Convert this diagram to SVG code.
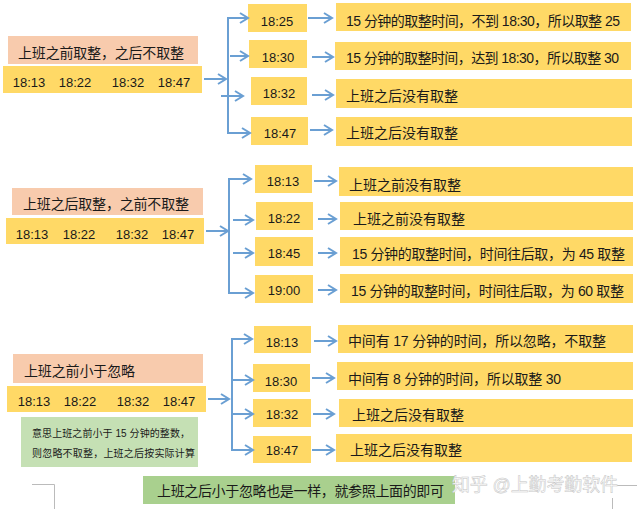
<svg xmlns="http://www.w3.org/2000/svg" width="639" height="509" viewBox="0 0 639 509">
<style>
.y{fill:#FFD966}
.p{fill:#F8CBAD}
.g{fill:#A9D08E}
.n{fill:#C5E0B4}
text{font-family:"Liberation Sans","Noto Sans CJK SC",sans-serif;fill:#1a1a1a}
.t{font-size:13px;text-anchor:middle}
.h{font-size:14px}
.s{font-size:10px}
.c line{stroke:#6A9FD3;stroke-width:2;fill:none}
.c .a{marker-end:url(#ah)}
</style>
<defs>
<marker id="ah" markerUnits="userSpaceOnUse" markerWidth="12" markerHeight="14" refX="9" refY="6" orient="auto" viewBox="0 0 12 12">
<path d="M1,1 L9,6 L1,11" fill="none" stroke="#6A9FD3" stroke-width="2"/>
</marker>
</defs>
<rect width="639" height="509" fill="#fff"/>

<!-- Section 1 -->
<g id="title1"><rect class="p" x="8" y="36" width="190" height="28"/><text class="h" x="18" y="58" textLength="166">上班之前取整，之后不取整</text></g>
<g id="bar1"><rect class="y" x="3" y="66" width="199" height="27"/>
<text class="t" x="29" y="87">18:13</text><text class="t" x="75" y="87">18:22</text><text class="t" x="128" y="87">18:32</text><text class="t" x="174" y="87">18:47</text></g>
<g id="s1b1"><rect class="y" x="248" y="4" width="59" height="28"/><text class="t" x="277" y="26">18:25</text></g>
<g id="s1b2"><rect class="y" x="249" y="40" width="58" height="28"/><text class="t" x="278" y="62">18:30</text></g>
<g id="s1b3"><rect class="y" x="251" y="77" width="56" height="28"/><text class="t" x="279" y="98">18:32</text></g>
<g id="s1b4"><rect class="y" x="251" y="117" width="57" height="28"/><text class="t" x="280" y="138">18:47</text></g>
<g id="s1r1"><rect class="y" x="336" y="3" width="295" height="28"/><text class="h" x="346" y="26" textLength="274">15 分钟的取整时间，不到 18:30，所以取整 25</text></g>
<g id="s1r2"><rect class="y" x="335" y="42" width="296" height="28"/><text class="h" x="346" y="63" textLength="273">15 分钟的取整时间，达到 18:30，所以取整 30</text></g>
<g id="s1r3"><rect class="y" x="336" y="79" width="296" height="29"/><text class="h" x="346" y="101">上班之后没有取整</text></g>
<g id="s1r4"><rect class="y" x="336" y="117" width="296" height="29"/><text class="h" x="346" y="138">上班之后没有取整</text></g>

<!-- Section 2 -->
<g id="title2"><rect class="p" x="12" y="188" width="191" height="27"/><text class="h" x="23" y="209" textLength="166">上班之后取整，之前不取整</text></g>
<g id="bar2"><rect class="y" x="6" y="218" width="198" height="26"/>
<text class="t" x="32" y="239">18:13</text><text class="t" x="79" y="239">18:22</text><text class="t" x="132" y="239">18:32</text><text class="t" x="178" y="239">18:47</text></g>
<g id="s2b1"><rect class="y" x="255" y="165" width="57" height="28"/><text class="t" x="283" y="186">18:13</text></g>
<g id="s2b2"><rect class="y" x="256" y="202" width="57" height="28"/><text class="t" x="284" y="223">18:22</text></g>
<g id="s2b3"><rect class="y" x="255" y="237" width="58" height="29"/><text class="t" x="284" y="258">18:45</text></g>
<g id="s2b4"><rect class="y" x="255" y="275" width="58" height="28"/><text class="t" x="284" y="295">19:00</text></g>
<g id="s2r1"><rect class="y" x="339" y="167" width="294" height="29"/><text class="h" x="349" y="190">上班之前没有取整</text></g>
<g id="s2r2"><rect class="y" x="340" y="202" width="293" height="28"/><text class="h" x="353" y="224">上班之前没有取整</text></g>
<g id="s2r3"><rect class="y" x="340" y="237" width="293" height="29"/><text class="h" x="352" y="259" textLength="273">15 分钟的取整时间，时间往后取，为 45 取整</text></g>
<g id="s2r4"><rect class="y" x="340" y="274" width="293" height="29"/><text class="h" x="351" y="296" textLength="273">15 分钟的取整时间，时间往后取，为 60 取整</text></g>

<!-- Section 3 -->
<g id="title3"><rect class="p" x="13" y="354" width="190" height="29"/><text class="h" x="24" y="376" textLength="111">上班之前小于忽略</text></g>
<g id="bar3"><rect class="y" x="7" y="386" width="199" height="26"/>
<text class="t" x="34" y="406">18:13</text><text class="t" x="80" y="406">18:22</text><text class="t" x="133" y="406">18:32</text><text class="t" x="179" y="406">18:47</text></g>
<g id="note"><rect class="n" x="21" y="417" width="177" height="50"/>
<text class="s" x="32" y="437" textLength="158">意思上班之前小于 15 分钟的整数，</text>
<text class="s" x="32" y="457" textLength="163">则忽略不取整，上班之后按实际计算</text></g>
<g id="s3b1"><rect class="y" x="254" y="326" width="57" height="27"/><text class="t" x="282" y="347">18:13</text></g>
<g id="s3b2"><rect class="y" x="253" y="364" width="57" height="28"/><text class="t" x="281" y="386">18:30</text></g>
<g id="s3b3"><rect class="y" x="253" y="399" width="58" height="28"/><text class="t" x="282" y="419">18:32</text></g>
<g id="s3b4"><rect class="y" x="253" y="436" width="58" height="27"/><text class="t" x="282" y="455">18:47</text></g>
<g id="s3r1"><rect class="y" x="338" y="325" width="295" height="28"/><text class="h" x="348" y="346" textLength="258">中间有 17 分钟的时间，所以忽略，不取整</text></g>
<g id="s3r2"><rect class="y" x="337" y="362" width="296" height="28"/><text class="h" x="348" y="384" textLength="213">中间有 8 分钟的时间，所以取整 30</text></g>
<g id="s3r3"><rect class="y" x="339" y="399" width="294" height="28"/><text class="h" x="352" y="420">上班之后没有取整</text></g>
<g id="s3r4"><rect class="y" x="336" y="434" width="296" height="28"/><text class="h" x="350" y="455">上班之后没有取整</text></g>

<g id="footer"><rect class="g" x="143" y="476" width="312" height="28"/><text class="h" x="157" y="496" textLength="287">上班之后小于忽略也是一样，就参照上面的即可</text></g>

<g id="marks" stroke="#bbb" stroke-width="1" fill="none">
<path d="M32,484.5 H54.5 V509"/>
<path d="M612.5,498 V509"/>
<path d="M617,485.5 H637"/>
</g>
<text x="452" y="491" font-size="18" textLength="166" style="fill:#fff;stroke:#c4c4c4;stroke-width:0.5">知乎 @上勤考勤软件</text>

<g id="connectors" class="c">
<line class="a" x1="204" y1="79" x2="226" y2="79"/>
<line x1="228" y1="17" x2="228" y2="134"/>
<line class="a" x1="227" y1="18" x2="248" y2="18"/>
<line class="a" x1="230" y1="56" x2="248" y2="56"/>
<line class="a" x1="221" y1="96" x2="243" y2="96"/>
<line class="a" x1="227" y1="133" x2="250" y2="133"/>
<line class="a" x1="308" y1="18" x2="332" y2="18"/>
<line class="a" x1="312" y1="57" x2="333" y2="57"/>
<line class="a" x1="312" y1="95" x2="333" y2="95"/>
<line class="a" x1="310" y1="130" x2="332" y2="130"/>

<line class="a" x1="206" y1="231" x2="228" y2="231"/>
<line x1="229" y1="178" x2="229" y2="294"/>
<line class="a" x1="228" y1="179" x2="251" y2="179"/>
<line class="a" x1="233" y1="220" x2="253" y2="220"/>
<line class="a" x1="233" y1="253" x2="253" y2="253"/>
<line class="a" x1="228" y1="293" x2="253" y2="293"/>
<line class="a" x1="314" y1="181" x2="336" y2="181"/>
<line class="a" x1="318" y1="219" x2="336" y2="219"/>
<line class="a" x1="318" y1="253" x2="336" y2="253"/>
<line class="a" x1="318" y1="290" x2="336" y2="290"/>

<line class="a" x1="208" y1="399" x2="229" y2="399"/>
<line x1="232" y1="338" x2="232" y2="451"/>
<line class="a" x1="231" y1="339" x2="252" y2="339"/>
<line class="a" x1="233" y1="380" x2="253" y2="380"/>
<line class="a" x1="233" y1="414" x2="253" y2="414"/>
<line class="a" x1="231" y1="450" x2="253" y2="450"/>
<line class="a" x1="314" y1="341" x2="336" y2="341"/>
<line class="a" x1="312" y1="378" x2="334" y2="378"/>
<line class="a" x1="313" y1="414" x2="334" y2="414"/>
<line class="a" x1="312" y1="450" x2="334" y2="450"/>
</g>
</svg>
